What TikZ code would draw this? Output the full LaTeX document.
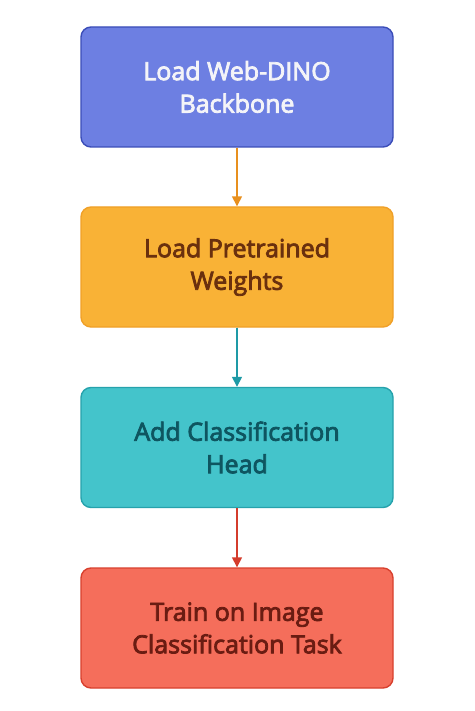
\documentclass[tikz,border=0pt]{standalone}
\usepackage{fontspec}
\setmainfont{Open Sans}[FakeBold=3.2]
\usetikzlibrary{arrows.meta}
\definecolor{bfill}{HTML}{6D7FE2}
\definecolor{bdraw}{HTML}{3B4DB8}
\definecolor{btext}{HTML}{F4F4F8}
\definecolor{ofill}{HTML}{F9B236}
\definecolor{odraw}{HTML}{F0A028}
\definecolor{otext}{HTML}{6A300E}
\definecolor{oarrow}{HTML}{E8901E}
\definecolor{tfill}{HTML}{44C4CB}
\definecolor{tdraw}{HTML}{26A2AC}
\definecolor{ttext}{HTML}{0E5560}
\definecolor{tarrow}{HTML}{1E9AA6}
\definecolor{rfill}{HTML}{F56E5B}
\definecolor{rdraw}{HTML}{D8402E}
\definecolor{rtext}{HTML}{6A1C12}
\definecolor{rarrow}{HTML}{D43C2C}
\begin{document}
\begin{tikzpicture}[x=1pt,y=-1pt,
  stepbox/.style={rectangle, rounded corners=10pt, line width=1.4pt,
    minimum width=312pt, minimum height=120pt, inner sep=0pt,
    align=center, font=\fontsize{25}{32.5}\selectfont},
  flow/.style={line width=1.5pt, -{Triangle[width=10pt,length=10pt]}}]
\useasboundingbox (0,0) rectangle (474,711);
\fill[white] (0,0) rectangle (474,711);
\node[stepbox, fill=bfill, draw=bdraw, text=btext] (b1) at (237,87) {Load Web-DINO\\Backbone};
\node[stepbox, fill=ofill, draw=odraw, text=otext] (b2) at (237,267) {Load Pretrained\\Weights};
\node[stepbox, fill=tfill, draw=tdraw, text=ttext] (b3) at (237,447.5) {Add Classification\\Head};
\node[stepbox, fill=rfill, draw=rdraw, text=rtext] (b4) at (237,628) {Train on Image\\Classification Task};
\draw[flow, draw=oarrow, fill=oarrow] (b1.south) -- (b2.north);
\draw[flow, draw=tarrow, fill=tarrow] (b2.south) -- (b3.north);
\draw[flow, draw=rarrow, fill=rarrow] (b3.south) -- (b4.north);
\end{tikzpicture}
\end{document}
